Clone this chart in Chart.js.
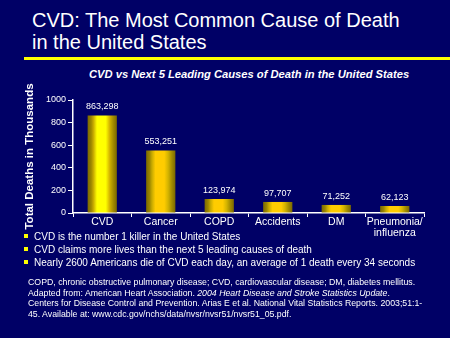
<!DOCTYPE html>
<html><head><meta charset="utf-8">
<script src="https://cdn.jsdelivr.net/npm/chart.js@4.4.1/dist/chart.umd.min.js"></script>
<style>
html,body{margin:0;padding:0;background:#000066;}
body{width:450px;height:338px;position:relative;overflow:hidden;font-family:Arial,"Liberation Sans",sans-serif;color:#fff;}
#title{position:absolute;left:32px;top:9px;font-size:20px;line-height:22px;white-space:nowrap;}
#rule{position:absolute;left:24px;top:57px;width:426px;height:3px;background:#ffff00;}
#sub{position:absolute;left:89px;top:68px;font-size:11.2px;font-weight:bold;font-style:italic;white-space:nowrap;}
#wrap{position:absolute;left:0;top:62px;width:450px;height:180px;}
#bullets{position:absolute;left:24px;top:230px;font-size:10px;line-height:13px;}
#bullets div{position:relative;padding-left:10px;white-space:nowrap;}
#bullets div:before{content:"";position:absolute;left:0;top:4px;width:4px;height:4px;background:#ffff00;}
#notes{position:absolute;left:28px;top:277px;font-size:8.75px;line-height:10.5px;white-space:nowrap;}
</style>
</head><body>
<div id="title">CVD: The Most Common Cause of Death<br>in the United States</div>
<div id="rule"></div>
<div id="sub">CVD vs Next 5 Leading Causes of Death in the United States</div>
<div id="wrap"><canvas id="c" width="450" height="180"></canvas></div>
<div id="bullets">
<div>CVD is the number 1 killer in the United States</div>
<div>CVD claims more lives than the next 5 leading causes of death</div>
<div>Nearly 2600 Americans die of CVD each day, an average of 1 death every 34 seconds</div>
</div>
<div id="notes">
<div>COPD, chronic obstructive pulmonary disease; CVD, cardiovascular disease; DM, diabetes mellitus.</div>
<div>Adapted from: American Heart Association. <i>2004 Heart Disease and Stroke Statistics Update</i>.</div>
<div>Centers for Disease Control and Prevention. Arias E et al. National Vital Statistics Reports. 2003;51:1-</div>
<div>45. Available at: www.cdc.gov/nchs/data/nvsr/nvsr51/nvsr51_05.pdf.</div>
</div>
<script>
const categories = ['CVD', 'Cancer', 'COPD', 'Accidents', 'DM', ['Pneumonia/', 'influenza']];
const deaths = [863298, 553251, 123974, 97707, 71252, 62123];
const yTicks = [0, 200, 400, 600, 800, 1000];
const yTitle = 'Total Deaths in Thousands';

const thousands = deaths.map(v => v / 1000);

function barGradient(ctx) {
  const chart = ctx.chart;
  const area = chart.chartArea;
  const xs = chart.scales && chart.scales.x;
  if (!area || !xs) return '#ffcc00';
  const x = xs.getPixelForValue(ctx.dataIndex);
  const w = (area.right - area.left) / categories.length * 0.5;
  const g = chart.ctx.createLinearGradient(x - w / 2, 0, x + w / 2, 0);
  const mid = ctx.dataIndex === 0 ? '#ffff00' : '#ffcc00';
  g.addColorStop(0, '#7a6800');
  g.addColorStop(0.12, '#9c8600');
  g.addColorStop(0.2, '#c8aa00');
  g.addColorStop(0.32, mid);
  g.addColorStop(0.62, mid);
  g.addColorStop(0.75, '#d4b400');
  g.addColorStop(0.88, '#a08a00');
  g.addColorStop(1, '#7a6800');
  return g;
}

const valueLabels = {
  id: 'valueLabels',
  afterDatasetsDraw(chart) {
    const c = chart.ctx;
    const meta = chart.getDatasetMeta(0);
    c.save();
    c.fillStyle = '#ffffff';
    c.font = '9px Arial, "Liberation Sans", sans-serif';
    c.textAlign = 'center';
    c.textBaseline = 'bottom';
    meta.data.forEach((el, i) => {
      c.fillText(deaths[i].toLocaleString('en-US'), el.x, el.y - 4);
    });
    c.restore();
  }
};

new Chart(document.getElementById('c'), {
  type: 'bar',
  data: {
    labels: categories,
    datasets: [{
      data: thousands,
      backgroundColor: barGradient,
      borderWidth: 0,
      categoryPercentage: 1,
      barPercentage: 0.5
    }]
  },
  options: {
    responsive: false,
    animation: false,
    devicePixelRatio: 1,
    layout: { padding: { left: 0, right: 26, top: 38, bottom: 0 } },
    plugins: { legend: { display: false }, tooltip: { enabled: false } },
    scales: {
      y: {
        min: 0, max: 1000,
        afterBuildTicks: s => { s.ticks = yTicks.map(v => ({ value: v })); },
        ticks: { color: '#ffffff', font: { size: 9, family: 'Arial, "Liberation Sans", sans-serif' }, padding: 2, callback: v => String(v) },
        grid: { drawOnChartArea: false, color: '#ffffff', tickLength: 5, lineWidth: 1 },
        border: { color: '#ffffff', width: 1.5 },
        title: { display: true, text: yTitle, color: '#ffffff', font: { size: 11.5, weight: 'bold', family: 'Arial, "Liberation Sans", sans-serif' }, padding: { top: 23, bottom: 0 } },
        afterFit: s => { s.width = 73; }
      },
      x: {
        ticks: { color: '#ffffff', font: { size: 10.5, family: 'Arial, "Liberation Sans", sans-serif', lineHeight: 1.05 }, padding: 0, maxRotation: 0, autoSkip: false },
        grid: { drawOnChartArea: false, color: '#ffffff', tickLength: 4, offset: true, lineWidth: 1 },
        border: { color: '#ffffff', width: 1.5 },
        afterFit: s => { s.height = 29; }
      }
    }
  },
  plugins: [valueLabels]
});
</script>
</body></html>
